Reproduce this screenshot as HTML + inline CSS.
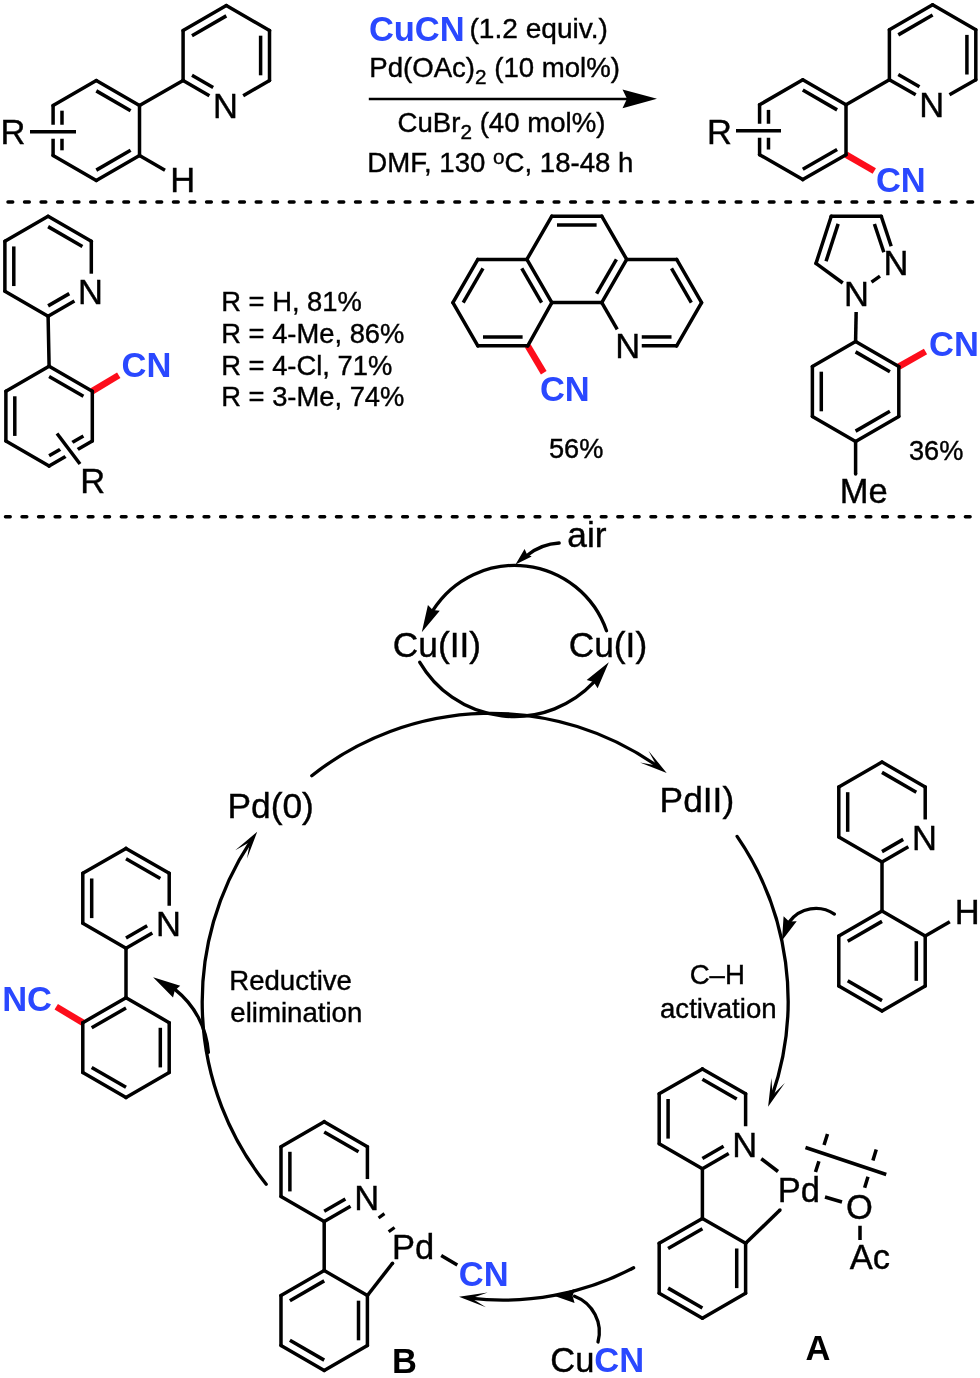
<!DOCTYPE html>
<html><head><meta charset="utf-8"><title>Scheme</title>
<style>html,body{margin:0;padding:0;background:#fff}svg{display:block;will-change:transform}text{font-family:"Liberation Sans",Arial,Helvetica,sans-serif;stroke:#000;stroke-width:.4px}text[fill]{stroke:none}text[font-weight]{stroke:none}</style>
</head><body>
<svg width="980" height="1378" viewBox="0 0 980 1378">
<rect width="980" height="1378" fill="#fff"/>
<line x1="82.79" y1="1022.65" x2="56.25" y2="1006.75" stroke="#fd0d1b" stroke-width="6.6"/>
<line x1="898.81" y1="366.55" x2="925.5" y2="351.5" stroke="#fd0d1b" stroke-width="6.6"/>
<line x1="527.75" y1="345.86" x2="543.75" y2="372.75" stroke="#fd0d1b" stroke-width="6.6"/>
<line x1="92.31" y1="391.15" x2="118.75" y2="375.25" stroke="#fd0d1b" stroke-width="6.6"/>
<line x1="846.01" y1="154.65" x2="874.3" y2="171" stroke="#fd0d1b" stroke-width="6.6"/>
<line x1="7.95" y1="202" x2="973.8" y2="202" stroke="#000" stroke-width="3.4" stroke-linecap="round" stroke-dasharray="4.8 11.75"/>
<line x1="5.45" y1="516.7" x2="970.8" y2="516.7" stroke="#000" stroke-width="3.4" stroke-linecap="round" stroke-dasharray="4.8 11.75"/>
<line x1="96.3" y1="80.6" x2="139.51" y2="105.55" stroke="#000" stroke-width="3.5" stroke-linecap="round"/>
<line x1="96.3" y1="90.88" x2="130.61" y2="110.69" stroke="#000" stroke-width="3.5" stroke-linecap="butt"/>
<line x1="139.51" y1="105.55" x2="139.51" y2="155.45" stroke="#000" stroke-width="3.5" stroke-linecap="round"/>
<line x1="139.51" y1="155.45" x2="96.3" y2="180.4" stroke="#000" stroke-width="3.5" stroke-linecap="round"/>
<line x1="130.61" y1="150.31" x2="96.3" y2="170.12" stroke="#000" stroke-width="3.5" stroke-linecap="butt"/>
<line x1="96.3" y1="180.4" x2="53.09" y2="155.45" stroke="#000" stroke-width="3.5" stroke-linecap="round"/>
<line x1="53.09" y1="155.45" x2="53.09" y2="105.55" stroke="#000" stroke-width="3.5" stroke-linecap="round"/>
<line x1="61.99" y1="150.31" x2="61.99" y2="110.69" stroke="#000" stroke-width="3.5" stroke-linecap="butt"/>
<line x1="53.09" y1="105.55" x2="96.3" y2="80.6" stroke="#000" stroke-width="3.5" stroke-linecap="round"/>
<line x1="139.51" y1="105.55" x2="183.09" y2="80.45" stroke="#000" stroke-width="3.5" stroke-linecap="round"/>
<line x1="183.09" y1="80.45" x2="183.09" y2="30.55" stroke="#000" stroke-width="3.5" stroke-linecap="round"/>
<line x1="183.09" y1="30.55" x2="226.3" y2="5.6" stroke="#000" stroke-width="3.5" stroke-linecap="round"/>
<line x1="191.99" y1="35.69" x2="226.3" y2="15.88" stroke="#000" stroke-width="3.5" stroke-linecap="butt"/>
<line x1="226.3" y1="5.6" x2="269.51" y2="30.55" stroke="#000" stroke-width="3.5" stroke-linecap="round"/>
<line x1="269.51" y1="30.55" x2="269.51" y2="80.45" stroke="#000" stroke-width="3.5" stroke-linecap="round"/>
<line x1="260.61" y1="35.69" x2="260.61" y2="75.31" stroke="#000" stroke-width="3.5" stroke-linecap="butt"/>
<line x1="269.51" y1="80.45" x2="243.19" y2="95.65" stroke="#000" stroke-width="3.5" stroke-linecap="butt"/>
<circle cx="269.51" cy="80.45" r="1.75" fill="#000"/>
<line x1="183.09" y1="80.45" x2="209.41" y2="95.65" stroke="#000" stroke-width="3.5" stroke-linecap="butt"/>
<circle cx="183.09" cy="80.45" r="1.75" fill="#000"/>
<line x1="191.99" y1="75.31" x2="213.17" y2="87.54" stroke="#000" stroke-width="3.5" stroke-linecap="butt"/>
<text x="213.03" y="118.27" font-size="34.5">N</text>
<line x1="139.51" y1="155.45" x2="164.98" y2="170.15" stroke="#000" stroke-width="3.5" stroke-linecap="butt"/>
<circle cx="139.51" cy="155.45" r="1.75" fill="#000"/>
<text x="170.26" y="192.27" font-size="34.5">H</text>
<text x="0.43" y="143.87" font-size="34.5">R</text>
<line x1="36" y1="131.7" x2="76" y2="131.7" stroke="#fff" stroke-width="14" stroke-linecap="butt"/>
<line x1="30" y1="131.7" x2="76" y2="131.7" stroke="#000" stroke-width="3.5" stroke-linecap="butt"/>
<text x="368.88" y="40.5" font-size="34.5" font-weight="bold" fill="#2a48ff">CuCN</text>
<text x="469.47" y="38" font-size="28.1">(1.2 equiv.)</text>
<text x="369.24" y="77.4" font-size="27.6">Pd(OAc)<tspan dy="7" font-size="20.7">2</tspan><tspan dy="-7"> (10 mol%)</tspan></text>
<text x="397.6" y="131.9" font-size="27.6">CuBr<tspan dy="7" font-size="20.7">2</tspan><tspan dy="-7"> (40 mol%)</tspan></text>
<text x="367.34" y="172.2" font-size="27.6">DMF, 130 <tspan dy="-8.5" font-size="20.7">o</tspan><tspan dy="8.5">C, 18-48 h</tspan></text>
<line x1="368.8" y1="99" x2="630" y2="99" stroke="#000" stroke-width="2.6" stroke-linecap="butt"/>
<path d="M657 98.8L622.5 108.2L626.99 98.8L622.5 89.4Z" fill="#000"/>
<line x1="802.8" y1="79.8" x2="846.01" y2="104.75" stroke="#000" stroke-width="3.5" stroke-linecap="round"/>
<line x1="802.8" y1="90.08" x2="837.11" y2="109.89" stroke="#000" stroke-width="3.5" stroke-linecap="butt"/>
<line x1="846.01" y1="104.75" x2="846.01" y2="154.65" stroke="#000" stroke-width="3.5" stroke-linecap="round"/>
<line x1="846.01" y1="154.65" x2="802.8" y2="179.6" stroke="#000" stroke-width="3.5" stroke-linecap="round"/>
<line x1="837.11" y1="149.51" x2="802.8" y2="169.32" stroke="#000" stroke-width="3.5" stroke-linecap="butt"/>
<line x1="802.8" y1="179.6" x2="759.59" y2="154.65" stroke="#000" stroke-width="3.5" stroke-linecap="round"/>
<line x1="759.59" y1="154.65" x2="759.59" y2="104.75" stroke="#000" stroke-width="3.5" stroke-linecap="round"/>
<line x1="768.49" y1="149.51" x2="768.49" y2="109.89" stroke="#000" stroke-width="3.5" stroke-linecap="butt"/>
<line x1="759.59" y1="104.75" x2="802.8" y2="79.8" stroke="#000" stroke-width="3.5" stroke-linecap="round"/>
<line x1="846.01" y1="104.75" x2="889.39" y2="79.65" stroke="#000" stroke-width="3.5" stroke-linecap="round"/>
<line x1="889.39" y1="79.65" x2="889.39" y2="29.75" stroke="#000" stroke-width="3.5" stroke-linecap="round"/>
<line x1="889.39" y1="29.75" x2="932.6" y2="4.8" stroke="#000" stroke-width="3.5" stroke-linecap="round"/>
<line x1="898.29" y1="34.89" x2="932.6" y2="15.08" stroke="#000" stroke-width="3.5" stroke-linecap="butt"/>
<line x1="932.6" y1="4.8" x2="975.81" y2="29.75" stroke="#000" stroke-width="3.5" stroke-linecap="round"/>
<line x1="975.81" y1="29.75" x2="975.81" y2="79.65" stroke="#000" stroke-width="3.5" stroke-linecap="round"/>
<line x1="966.91" y1="34.89" x2="966.91" y2="74.51" stroke="#000" stroke-width="3.5" stroke-linecap="butt"/>
<line x1="975.81" y1="79.65" x2="949.49" y2="94.85" stroke="#000" stroke-width="3.5" stroke-linecap="butt"/>
<circle cx="975.81" cy="79.65" r="1.75" fill="#000"/>
<line x1="889.39" y1="79.65" x2="915.71" y2="94.85" stroke="#000" stroke-width="3.5" stroke-linecap="butt"/>
<circle cx="889.39" cy="79.65" r="1.75" fill="#000"/>
<line x1="898.29" y1="74.51" x2="919.47" y2="86.74" stroke="#000" stroke-width="3.5" stroke-linecap="butt"/>
<text x="919.33" y="117.47" font-size="34.5">N</text>
<text x="875.88" y="191.8" font-size="34.5" font-weight="bold" fill="#2a48ff">CN</text>
<text x="706.97" y="144" font-size="34.5">R</text>
<line x1="742" y1="130.8" x2="781" y2="130.8" stroke="#fff" stroke-width="14" stroke-linecap="butt"/>
<line x1="736" y1="130.8" x2="781" y2="130.8" stroke="#000" stroke-width="3.5" stroke-linecap="butt"/>
<line x1="48.1" y1="216.35" x2="91.31" y2="241.3" stroke="#000" stroke-width="3.5" stroke-linecap="round"/>
<line x1="48.1" y1="226.63" x2="82.41" y2="246.44" stroke="#000" stroke-width="3.5" stroke-linecap="butt"/>
<line x1="91.31" y1="241.3" x2="91.31" y2="273.7" stroke="#000" stroke-width="3.5" stroke-linecap="butt"/>
<circle cx="91.31" cy="241.3" r="1.75" fill="#000"/>
<line x1="48.1" y1="316.15" x2="74.43" y2="300.95" stroke="#000" stroke-width="3.5" stroke-linecap="butt"/>
<circle cx="48.1" cy="316.15" r="1.75" fill="#000"/>
<line x1="48.1" y1="305.87" x2="69.28" y2="293.64" stroke="#000" stroke-width="3.5" stroke-linecap="butt"/>
<line x1="48.1" y1="316.15" x2="4.89" y2="291.2" stroke="#000" stroke-width="3.5" stroke-linecap="round"/>
<line x1="4.89" y1="291.2" x2="4.89" y2="241.3" stroke="#000" stroke-width="3.5" stroke-linecap="round"/>
<line x1="13.79" y1="286.06" x2="13.79" y2="246.44" stroke="#000" stroke-width="3.5" stroke-linecap="butt"/>
<line x1="4.89" y1="241.3" x2="48.1" y2="216.35" stroke="#000" stroke-width="3.5" stroke-linecap="round"/>
<text x="78.05" y="303.77" font-size="34.5">N</text>
<line x1="48.1" y1="316.15" x2="49.1" y2="366.2" stroke="#000" stroke-width="3.5" stroke-linecap="round"/>
<line x1="49.1" y1="366.2" x2="92.31" y2="391.15" stroke="#000" stroke-width="3.5" stroke-linecap="round"/>
<line x1="49.1" y1="376.48" x2="83.41" y2="396.29" stroke="#000" stroke-width="3.5" stroke-linecap="butt"/>
<line x1="92.31" y1="391.15" x2="92.31" y2="441.05" stroke="#000" stroke-width="3.5" stroke-linecap="round"/>
<line x1="92.31" y1="441.05" x2="49.1" y2="466" stroke="#000" stroke-width="3.5" stroke-linecap="round"/>
<line x1="83.41" y1="435.91" x2="49.1" y2="455.72" stroke="#000" stroke-width="3.5" stroke-linecap="butt"/>
<line x1="49.1" y1="466" x2="5.89" y2="441.05" stroke="#000" stroke-width="3.5" stroke-linecap="round"/>
<line x1="5.89" y1="441.05" x2="5.89" y2="391.15" stroke="#000" stroke-width="3.5" stroke-linecap="round"/>
<line x1="14.79" y1="435.91" x2="14.79" y2="396.29" stroke="#000" stroke-width="3.5" stroke-linecap="butt"/>
<line x1="5.89" y1="391.15" x2="49.1" y2="366.2" stroke="#000" stroke-width="3.5" stroke-linecap="round"/>
<text x="121.58" y="377" font-size="34.5" font-weight="bold" fill="#2a48ff">CN</text>
<line x1="59" y1="436.2" x2="80" y2="464" stroke="#fff" stroke-width="14" stroke-linecap="butt"/>
<line x1="57" y1="433.5" x2="80" y2="464" stroke="#000" stroke-width="3.5" stroke-linecap="butt"/>
<text x="80.17" y="492.8" font-size="34.5">R</text>
<text x="221.26" y="311.2" font-size="27.35">R = H, 81%</text>
<text x="221.26" y="342.95" font-size="27.35">R = 4-Me, 86%</text>
<text x="221.26" y="374.7" font-size="27.35">R = 4-Cl, 71%</text>
<text x="221.26" y="406.45" font-size="27.35">R = 3-Me, 74%</text>
<line x1="551.85" y1="216.19" x2="601.75" y2="216.19" stroke="#000" stroke-width="3.5" stroke-linecap="round"/>
<line x1="556.99" y1="225.09" x2="596.61" y2="225.09" stroke="#000" stroke-width="3.5" stroke-linecap="butt"/>
<line x1="601.75" y1="216.19" x2="626.7" y2="259.4" stroke="#000" stroke-width="3.5" stroke-linecap="round"/>
<line x1="626.7" y1="259.4" x2="601.75" y2="302.61" stroke="#000" stroke-width="3.5" stroke-linecap="round"/>
<line x1="616.42" y1="259.4" x2="596.61" y2="293.71" stroke="#000" stroke-width="3.5" stroke-linecap="butt"/>
<line x1="601.75" y1="302.61" x2="551.85" y2="302.61" stroke="#000" stroke-width="3.5" stroke-linecap="round"/>
<line x1="526.9" y1="259.4" x2="551.85" y2="216.19" stroke="#000" stroke-width="3.5" stroke-linecap="round"/>
<line x1="526.9" y1="259.4" x2="551.85" y2="302.61" stroke="#000" stroke-width="3.5" stroke-linecap="round"/>
<line x1="521.76" y1="268.3" x2="541.57" y2="302.61" stroke="#000" stroke-width="3.5" stroke-linecap="butt"/>
<line x1="551.85" y1="302.61" x2="527.75" y2="345.86" stroke="#000" stroke-width="3.5" stroke-linecap="round"/>
<line x1="477.85" y1="345.86" x2="527.75" y2="345.86" stroke="#000" stroke-width="3.5" stroke-linecap="round"/>
<line x1="482.99" y1="336.96" x2="522.61" y2="336.96" stroke="#000" stroke-width="3.5" stroke-linecap="butt"/>
<line x1="477.85" y1="345.86" x2="452.9" y2="302.65" stroke="#000" stroke-width="3.5" stroke-linecap="round"/>
<line x1="452.9" y1="302.65" x2="477.85" y2="259.44" stroke="#000" stroke-width="3.5" stroke-linecap="round"/>
<line x1="463.18" y1="302.65" x2="482.99" y2="268.34" stroke="#000" stroke-width="3.5" stroke-linecap="butt"/>
<line x1="477.85" y1="259.44" x2="526.9" y2="259.4" stroke="#000" stroke-width="3.5" stroke-linecap="round"/>
<line x1="626.75" y1="259.44" x2="676.65" y2="259.44" stroke="#000" stroke-width="3.5" stroke-linecap="round"/>
<line x1="676.65" y1="259.44" x2="701.6" y2="302.65" stroke="#000" stroke-width="3.5" stroke-linecap="round"/>
<line x1="671.51" y1="268.34" x2="691.32" y2="302.65" stroke="#000" stroke-width="3.5" stroke-linecap="butt"/>
<line x1="701.6" y1="302.65" x2="676.65" y2="345.86" stroke="#000" stroke-width="3.5" stroke-linecap="round"/>
<line x1="676.65" y1="345.86" x2="641.75" y2="345.86" stroke="#000" stroke-width="3.5" stroke-linecap="butt"/>
<circle cx="676.65" cy="345.86" r="1.75" fill="#000"/>
<line x1="671.51" y1="336.96" x2="641.75" y2="336.96" stroke="#000" stroke-width="3.5" stroke-linecap="butt"/>
<line x1="601.8" y1="302.65" x2="617.25" y2="329.41" stroke="#000" stroke-width="3.5" stroke-linecap="butt"/>
<circle cx="601.8" cy="302.65" r="1.75" fill="#000"/>
<text x="615.28" y="358.23" font-size="34.5">N</text>
<text x="539.88" y="401" font-size="34.5" font-weight="bold" fill="#2a48ff">CN</text>
<text x="548.91" y="457.8" font-size="27.2">56%</text>
<line x1="831.25" y1="216.25" x2="881.25" y2="216.25" stroke="#000" stroke-width="3.5" stroke-linecap="round"/>
<line x1="881.25" y1="216.25" x2="891.18" y2="246.19" stroke="#000" stroke-width="3.5" stroke-linecap="butt"/>
<circle cx="881.25" cy="216.25" r="1.75" fill="#000"/>
<line x1="874.42" y1="223.93" x2="883.83" y2="252.31" stroke="#000" stroke-width="3.5" stroke-linecap="butt"/>
<line x1="871.5" y1="282.17" x2="879.98" y2="276.05" stroke="#000" stroke-width="3.5" stroke-linecap="butt"/>
<line x1="816" y1="263.4" x2="842.77" y2="282.97" stroke="#000" stroke-width="3.5" stroke-linecap="butt"/>
<circle cx="816" cy="263.4" r="1.75" fill="#000"/>
<line x1="831.25" y1="216.25" x2="816" y2="263.4" stroke="#000" stroke-width="3.5" stroke-linecap="round"/>
<line x1="838.14" y1="223.88" x2="826.05" y2="261.25" stroke="#000" stroke-width="3.5" stroke-linecap="butt"/>
<text x="883.53" y="275.12" font-size="34.5">N</text>
<text x="844.03" y="305.57" font-size="34.5">N</text>
<line x1="856.15" y1="312" x2="855.6" y2="341.6" stroke="#000" stroke-width="3.5" stroke-linecap="butt"/>
<circle cx="855.6" cy="341.6" r="1.75" fill="#000"/>
<line x1="855.6" y1="341.6" x2="898.81" y2="366.55" stroke="#000" stroke-width="3.5" stroke-linecap="round"/>
<line x1="855.6" y1="351.88" x2="889.91" y2="371.69" stroke="#000" stroke-width="3.5" stroke-linecap="butt"/>
<line x1="898.81" y1="366.55" x2="898.81" y2="416.45" stroke="#000" stroke-width="3.5" stroke-linecap="round"/>
<line x1="898.81" y1="416.45" x2="855.6" y2="441.4" stroke="#000" stroke-width="3.5" stroke-linecap="round"/>
<line x1="889.91" y1="411.31" x2="855.6" y2="431.12" stroke="#000" stroke-width="3.5" stroke-linecap="butt"/>
<line x1="855.6" y1="441.4" x2="812.39" y2="416.45" stroke="#000" stroke-width="3.5" stroke-linecap="round"/>
<line x1="812.39" y1="416.45" x2="812.39" y2="366.55" stroke="#000" stroke-width="3.5" stroke-linecap="round"/>
<line x1="821.29" y1="411.31" x2="821.29" y2="371.69" stroke="#000" stroke-width="3.5" stroke-linecap="butt"/>
<line x1="812.39" y1="366.55" x2="855.6" y2="341.6" stroke="#000" stroke-width="3.5" stroke-linecap="round"/>
<text x="929.08" y="355.5" font-size="34.5" font-weight="bold" fill="#2a48ff">CN</text>
<line x1="855.6" y1="441.4" x2="855.6" y2="474" stroke="#000" stroke-width="3.5" stroke-linecap="butt"/>
<circle cx="855.6" cy="441.4" r="1.75" fill="#000"/>
<circle cx="855.6" cy="474" r="1.75" fill="#000"/>
<text x="839.67" y="502.8" font-size="34.5">Me</text>
<text x="908.96" y="459.5" font-size="27.2">36%</text>
<text x="392.81" y="656.5" font-size="35.3">Cu(II)</text>
<text x="568.71" y="656.5" font-size="35.3">Cu(I)</text>
<text x="567.3" y="546.5" font-size="35.3">air</text>
<path d="M606.5 630.8A96.95 96.95 0 0 0 433.1 610.2" fill="none" stroke="#000" stroke-width="3.3" stroke-linecap="round"/>
<path d="M421.8 632.2L427.93 604.89L432.77 610.01L439.77 610.74Z" fill="#000"/>
<path d="M419.8 662.3A109.4 109.4 0 0 0 593.9 682.2" fill="none" stroke="#000" stroke-width="3.3" stroke-linecap="round"/>
<path d="M608.8 662.3L597.64 688.26L593.66 682.11L586.68 679.88Z" fill="#000"/>
<path d="M559.2 543A56.57 56.57 0 0 0 527.3 555.2" fill="none" stroke="#000" stroke-width="3.3" stroke-linecap="round"/>
<path d="M515.5 564.6L524.58 548.98L526.87 553.96L531.68 556.58Z" fill="#000"/>
<text x="227.5" y="818" font-size="35.3">Pd(0)</text>
<text x="659.6" y="812.3" font-size="35.3">PdII)</text>
<path d="M311.8 775.7A288.83 288.83 0 0 1 657.84 766.38" fill="none" stroke="#000" stroke-width="3.3" stroke-linecap="round"/>
<path d="M666.7 772.9L639.98 762.38L656.58 765.55L648.44 750.73Z" fill="#000"/>
<path d="M737.1 836.4A290.48 290.48 0 0 1 771.92 1096.43" fill="none" stroke="#000" stroke-width="3.3" stroke-linecap="round"/>
<path d="M768.1 1106.75L771.35 1077.92L772.59 1094.93L784.81 1083.04Z" fill="#000"/>
<path d="M633.6 1267.8A279.8 279.8 0 0 1 469.89 1298.21" fill="none" stroke="#000" stroke-width="3.3" stroke-linecap="round"/>
<path d="M459 1296.7L487.66 1292.57L471.52 1298.15L485.96 1307.27Z" fill="#000"/>
<path d="M266.2 1184.2A291.11 291.11 0 0 1 250.94 840.84" fill="none" stroke="#000" stroke-width="3.3" stroke-linecap="round"/>
<path d="M257.2 831.8L247.02 858.55L249.98 841.96L235.28 850.21Z" fill="#000"/>
<path d="M834.4 914.1A32.98 32.98 0 0 0 789.4 921.7" fill="none" stroke="#000" stroke-width="3.3" stroke-linecap="round"/>
<path d="M782 940.5L783.6 916.22L789.1 921.51L796.72 921.13Z" fill="#000"/>
<path d="M208.4 1052.3A88.36 88.36 0 0 0 175.2 989.6" fill="none" stroke="#000" stroke-width="3.3" stroke-linecap="round"/>
<path d="M153.1 977.3L180.24 985.84L174.75 990.57L173.03 997.6Z" fill="#000"/>
<path d="M598 1342A38.26 38.26 0 0 0 574.5 1296.3" fill="none" stroke="#000" stroke-width="3.3" stroke-linecap="round"/>
<path d="M553.9 1295.7L574.82 1289.06L572.62 1296.03L574.57 1303.06Z" fill="#000"/>
<text x="229.24" y="989.8" font-size="27.6">Reductive</text>
<text x="230.33" y="1022.2" font-size="27.6">elimination</text>
<text x="689.7" y="984" font-size="27.6">C–H</text>
<text x="660.03" y="1017.5" font-size="27.6">activation</text>
<line x1="882" y1="762.1" x2="925.21" y2="787.05" stroke="#000" stroke-width="3.5" stroke-linecap="round"/>
<line x1="882" y1="772.38" x2="916.31" y2="792.19" stroke="#000" stroke-width="3.5" stroke-linecap="butt"/>
<line x1="925.21" y1="787.05" x2="925.21" y2="819.45" stroke="#000" stroke-width="3.5" stroke-linecap="butt"/>
<circle cx="925.21" cy="787.05" r="1.75" fill="#000"/>
<line x1="882" y1="861.9" x2="908.33" y2="846.7" stroke="#000" stroke-width="3.5" stroke-linecap="butt"/>
<circle cx="882" cy="861.9" r="1.75" fill="#000"/>
<line x1="882" y1="851.62" x2="903.18" y2="839.39" stroke="#000" stroke-width="3.5" stroke-linecap="butt"/>
<line x1="882" y1="861.9" x2="838.79" y2="836.95" stroke="#000" stroke-width="3.5" stroke-linecap="round"/>
<line x1="838.79" y1="836.95" x2="838.79" y2="787.05" stroke="#000" stroke-width="3.5" stroke-linecap="round"/>
<line x1="847.69" y1="831.81" x2="847.69" y2="792.19" stroke="#000" stroke-width="3.5" stroke-linecap="butt"/>
<line x1="838.79" y1="787.05" x2="882" y2="762.1" stroke="#000" stroke-width="3.5" stroke-linecap="round"/>
<text x="911.95" y="849.52" font-size="34.5">N</text>
<line x1="882" y1="861.9" x2="882" y2="911.1" stroke="#000" stroke-width="3.5" stroke-linecap="round"/>
<line x1="882" y1="911.1" x2="925.21" y2="936.05" stroke="#000" stroke-width="3.5" stroke-linecap="round"/>
<line x1="925.21" y1="936.05" x2="925.21" y2="985.95" stroke="#000" stroke-width="3.5" stroke-linecap="round"/>
<line x1="916.31" y1="941.19" x2="916.31" y2="980.81" stroke="#000" stroke-width="3.5" stroke-linecap="butt"/>
<line x1="925.21" y1="985.95" x2="882" y2="1010.9" stroke="#000" stroke-width="3.5" stroke-linecap="round"/>
<line x1="882" y1="1010.9" x2="838.79" y2="985.95" stroke="#000" stroke-width="3.5" stroke-linecap="round"/>
<line x1="882" y1="1000.62" x2="847.69" y2="980.81" stroke="#000" stroke-width="3.5" stroke-linecap="butt"/>
<line x1="838.79" y1="985.95" x2="838.79" y2="936.05" stroke="#000" stroke-width="3.5" stroke-linecap="round"/>
<line x1="838.79" y1="936.05" x2="882" y2="911.1" stroke="#000" stroke-width="3.5" stroke-linecap="round"/>
<line x1="847.69" y1="941.19" x2="882" y2="921.38" stroke="#000" stroke-width="3.5" stroke-linecap="butt"/>
<line x1="925.21" y1="936.05" x2="949.81" y2="921.85" stroke="#000" stroke-width="3.5" stroke-linecap="butt"/>
<circle cx="925.21" cy="936.05" r="1.75" fill="#000"/>
<text x="954.73" y="923.57" font-size="34.5">H</text>
<line x1="126" y1="848.4" x2="169.21" y2="873.35" stroke="#000" stroke-width="3.5" stroke-linecap="round"/>
<line x1="126" y1="858.68" x2="160.31" y2="878.49" stroke="#000" stroke-width="3.5" stroke-linecap="butt"/>
<line x1="169.21" y1="873.35" x2="169.21" y2="905.75" stroke="#000" stroke-width="3.5" stroke-linecap="butt"/>
<circle cx="169.21" cy="873.35" r="1.75" fill="#000"/>
<line x1="126" y1="948.2" x2="152.33" y2="933" stroke="#000" stroke-width="3.5" stroke-linecap="butt"/>
<circle cx="126" cy="948.2" r="1.75" fill="#000"/>
<line x1="126" y1="937.92" x2="147.18" y2="925.69" stroke="#000" stroke-width="3.5" stroke-linecap="butt"/>
<line x1="126" y1="948.2" x2="82.79" y2="923.25" stroke="#000" stroke-width="3.5" stroke-linecap="round"/>
<line x1="82.79" y1="923.25" x2="82.79" y2="873.35" stroke="#000" stroke-width="3.5" stroke-linecap="round"/>
<line x1="91.69" y1="918.11" x2="91.69" y2="878.49" stroke="#000" stroke-width="3.5" stroke-linecap="butt"/>
<line x1="82.79" y1="873.35" x2="126" y2="848.4" stroke="#000" stroke-width="3.5" stroke-linecap="round"/>
<text x="155.95" y="935.82" font-size="34.5">N</text>
<line x1="126" y1="948.2" x2="126" y2="997.7" stroke="#000" stroke-width="3.5" stroke-linecap="round"/>
<line x1="126" y1="997.7" x2="169.21" y2="1022.65" stroke="#000" stroke-width="3.5" stroke-linecap="round"/>
<line x1="169.21" y1="1022.65" x2="169.21" y2="1072.55" stroke="#000" stroke-width="3.5" stroke-linecap="round"/>
<line x1="160.31" y1="1027.79" x2="160.31" y2="1067.41" stroke="#000" stroke-width="3.5" stroke-linecap="butt"/>
<line x1="169.21" y1="1072.55" x2="126" y2="1097.5" stroke="#000" stroke-width="3.5" stroke-linecap="round"/>
<line x1="126" y1="1097.5" x2="82.79" y2="1072.55" stroke="#000" stroke-width="3.5" stroke-linecap="round"/>
<line x1="126" y1="1087.22" x2="91.69" y2="1067.41" stroke="#000" stroke-width="3.5" stroke-linecap="butt"/>
<line x1="82.79" y1="1072.55" x2="82.79" y2="1022.65" stroke="#000" stroke-width="3.5" stroke-linecap="round"/>
<line x1="82.79" y1="1022.65" x2="126" y2="997.7" stroke="#000" stroke-width="3.5" stroke-linecap="round"/>
<line x1="91.69" y1="1027.79" x2="126" y2="1007.98" stroke="#000" stroke-width="3.5" stroke-linecap="butt"/>
<text x="2.19" y="1010.5" font-size="34.5" font-weight="bold" fill="#2a48ff">NC</text>
<line x1="324.2" y1="1121.7" x2="367.41" y2="1146.65" stroke="#000" stroke-width="3.5" stroke-linecap="round"/>
<line x1="324.2" y1="1131.98" x2="358.51" y2="1151.79" stroke="#000" stroke-width="3.5" stroke-linecap="butt"/>
<line x1="367.41" y1="1146.65" x2="367.41" y2="1179.05" stroke="#000" stroke-width="3.5" stroke-linecap="butt"/>
<circle cx="367.41" cy="1146.65" r="1.75" fill="#000"/>
<line x1="324.2" y1="1221.5" x2="350.53" y2="1206.3" stroke="#000" stroke-width="3.5" stroke-linecap="butt"/>
<circle cx="324.2" cy="1221.5" r="1.75" fill="#000"/>
<line x1="324.2" y1="1211.22" x2="345.38" y2="1198.99" stroke="#000" stroke-width="3.5" stroke-linecap="butt"/>
<line x1="324.2" y1="1221.5" x2="280.99" y2="1196.55" stroke="#000" stroke-width="3.5" stroke-linecap="round"/>
<line x1="280.99" y1="1196.55" x2="280.99" y2="1146.65" stroke="#000" stroke-width="3.5" stroke-linecap="round"/>
<line x1="289.89" y1="1191.41" x2="289.89" y2="1151.79" stroke="#000" stroke-width="3.5" stroke-linecap="butt"/>
<line x1="280.99" y1="1146.65" x2="324.2" y2="1121.7" stroke="#000" stroke-width="3.5" stroke-linecap="round"/>
<text x="354.35" y="1209.72" font-size="34.5">N</text>
<line x1="324.2" y1="1221.5" x2="324.2" y2="1270.6" stroke="#000" stroke-width="3.5" stroke-linecap="round"/>
<line x1="324.2" y1="1270.6" x2="367.41" y2="1295.55" stroke="#000" stroke-width="3.5" stroke-linecap="round"/>
<line x1="367.41" y1="1295.55" x2="367.41" y2="1345.45" stroke="#000" stroke-width="3.5" stroke-linecap="round"/>
<line x1="358.51" y1="1300.69" x2="358.51" y2="1340.31" stroke="#000" stroke-width="3.5" stroke-linecap="butt"/>
<line x1="367.41" y1="1345.45" x2="324.2" y2="1370.4" stroke="#000" stroke-width="3.5" stroke-linecap="round"/>
<line x1="324.2" y1="1370.4" x2="280.99" y2="1345.45" stroke="#000" stroke-width="3.5" stroke-linecap="round"/>
<line x1="324.2" y1="1360.12" x2="289.89" y2="1340.31" stroke="#000" stroke-width="3.5" stroke-linecap="butt"/>
<line x1="280.99" y1="1345.45" x2="280.99" y2="1295.55" stroke="#000" stroke-width="3.5" stroke-linecap="round"/>
<line x1="280.99" y1="1295.55" x2="324.2" y2="1270.6" stroke="#000" stroke-width="3.5" stroke-linecap="round"/>
<line x1="289.89" y1="1300.69" x2="324.2" y2="1280.88" stroke="#000" stroke-width="3.5" stroke-linecap="butt"/>
<text x="391.97" y="1259.2" font-size="34.5">Pd</text>
<line x1="367.41" y1="1295.55" x2="392.5" y2="1263.25" stroke="#000" stroke-width="3.5" stroke-linecap="butt"/>
<circle cx="367.41" cy="1295.55" r="1.75" fill="#000"/>
<circle cx="392.5" cy="1263.25" r="1.75" fill="#000"/>
<line x1="384.44" y1="1213.64" x2="378.56" y2="1217.96" stroke="#000" stroke-width="3.2" stroke-linecap="butt"/>
<line x1="394.54" y1="1227.44" x2="388.66" y2="1231.76" stroke="#000" stroke-width="3.2" stroke-linecap="butt"/>
<line x1="441.2" y1="1255.5" x2="457.3" y2="1265" stroke="#000" stroke-width="3.5" stroke-linecap="butt"/>
<text x="458.78" y="1286" font-size="34.5" font-weight="bold" fill="#2a48ff">CN</text>
<text x="391.89" y="1373.2" font-size="34.5" font-weight="bold">B</text>
<line x1="702.4" y1="1068.9" x2="745.61" y2="1093.85" stroke="#000" stroke-width="3.5" stroke-linecap="round"/>
<line x1="702.4" y1="1079.18" x2="736.71" y2="1098.99" stroke="#000" stroke-width="3.5" stroke-linecap="butt"/>
<line x1="745.61" y1="1093.85" x2="745.61" y2="1126.25" stroke="#000" stroke-width="3.5" stroke-linecap="butt"/>
<circle cx="745.61" cy="1093.85" r="1.75" fill="#000"/>
<line x1="702.4" y1="1168.7" x2="728.73" y2="1153.5" stroke="#000" stroke-width="3.5" stroke-linecap="butt"/>
<circle cx="702.4" cy="1168.7" r="1.75" fill="#000"/>
<line x1="702.4" y1="1158.42" x2="723.58" y2="1146.19" stroke="#000" stroke-width="3.5" stroke-linecap="butt"/>
<line x1="702.4" y1="1168.7" x2="659.19" y2="1143.75" stroke="#000" stroke-width="3.5" stroke-linecap="round"/>
<line x1="659.19" y1="1143.75" x2="659.19" y2="1093.85" stroke="#000" stroke-width="3.5" stroke-linecap="round"/>
<line x1="668.09" y1="1138.61" x2="668.09" y2="1098.99" stroke="#000" stroke-width="3.5" stroke-linecap="butt"/>
<line x1="659.19" y1="1093.85" x2="702.4" y2="1068.9" stroke="#000" stroke-width="3.5" stroke-linecap="round"/>
<text x="732.35" y="1156.62" font-size="34.5">N</text>
<line x1="702.4" y1="1168.7" x2="702.4" y2="1218.4" stroke="#000" stroke-width="3.5" stroke-linecap="round"/>
<line x1="702.4" y1="1218.4" x2="745.61" y2="1243.35" stroke="#000" stroke-width="3.5" stroke-linecap="round"/>
<line x1="745.61" y1="1243.35" x2="745.61" y2="1293.25" stroke="#000" stroke-width="3.5" stroke-linecap="round"/>
<line x1="736.71" y1="1248.49" x2="736.71" y2="1288.11" stroke="#000" stroke-width="3.5" stroke-linecap="butt"/>
<line x1="745.61" y1="1293.25" x2="702.4" y2="1318.2" stroke="#000" stroke-width="3.5" stroke-linecap="round"/>
<line x1="702.4" y1="1318.2" x2="659.19" y2="1293.25" stroke="#000" stroke-width="3.5" stroke-linecap="round"/>
<line x1="702.4" y1="1307.92" x2="668.09" y2="1288.11" stroke="#000" stroke-width="3.5" stroke-linecap="butt"/>
<line x1="659.19" y1="1293.25" x2="659.19" y2="1243.35" stroke="#000" stroke-width="3.5" stroke-linecap="round"/>
<line x1="659.19" y1="1243.35" x2="702.4" y2="1218.4" stroke="#000" stroke-width="3.5" stroke-linecap="round"/>
<line x1="668.09" y1="1248.49" x2="702.4" y2="1228.68" stroke="#000" stroke-width="3.5" stroke-linecap="butt"/>
<line x1="761.25" y1="1158.75" x2="778" y2="1171.5" stroke="#000" stroke-width="3.5" stroke-linecap="butt"/>
<text x="777.67" y="1202" font-size="34.5">Pd</text>
<line x1="745.61" y1="1243.35" x2="780" y2="1210" stroke="#000" stroke-width="3.5" stroke-linecap="butt"/>
<circle cx="745.61" cy="1243.35" r="1.75" fill="#000"/>
<circle cx="780" cy="1210" r="1.75" fill="#000"/>
<line x1="825" y1="1197" x2="842" y2="1202" stroke="#000" stroke-width="3.5" stroke-linecap="butt"/>
<text x="846.09" y="1219.47" font-size="34.5">O</text>
<line x1="860" y1="1225.75" x2="860" y2="1240" stroke="#000" stroke-width="3.5" stroke-linecap="butt"/>
<text x="849.63" y="1269" font-size="34.5">Ac</text>
<line x1="805.5" y1="1147.5" x2="886.25" y2="1174.5" stroke="#000" stroke-width="3.5" stroke-linecap="butt"/>
<line x1="827.5" y1="1134" x2="815.5" y2="1172" stroke="#000" stroke-width="3.5" stroke-dasharray="11.5 17"/>
<line x1="876.25" y1="1149.5" x2="863.75" y2="1190.75" stroke="#000" stroke-width="3.5" stroke-dasharray="11.5 17"/>
<text x="805.44" y="1360" font-size="34.5" font-weight="bold">A</text>
<text x="550.25" y="1372.1" font-size="34.5">Cu</text>
<text x="594.35" y="1372.1" font-size="34.5" font-weight="bold" fill="#2a48ff">CN</text>
</svg>
</body></html>
